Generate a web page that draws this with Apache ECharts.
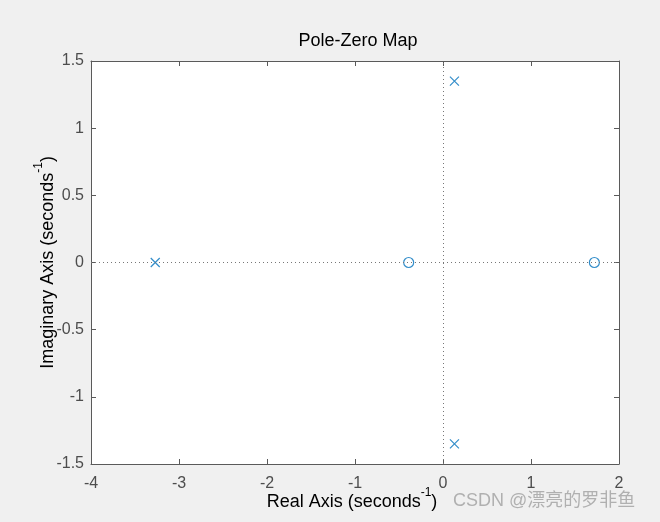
<!DOCTYPE html>
<html><head><meta charset="utf-8">
<script src="https://cdn.jsdelivr.net/npm/echarts@6/dist/echarts.min.js"></script>
<style>html,body{margin:0;padding:0;background:#f0f0f0;}#c{width:660px;height:522px;}</style>
</head><body><div id="c"></div>
<script>
const poleRe = [-3.27, 0.13, 0.13];
const poleIm = [0, 1.35, -1.35];
const zeroRe = [-0.39, 1.72];
const zeroIm = [0, 0];
const xTicks = [-4, -3, -2, -1, 0, 1, 2];
const yTicks = [-1.5, -1, -0.5, 0, 0.5, 1, 1.5];

const FONT = '"Liberation Sans", Arial, sans-serif';
const AX = '#5a5a5a';
const LBL = '#4d4d4d';
const BLUE = '#0072bd';

const chart = echarts.init(document.getElementById('c'), null, {renderer: 'canvas'});
function axisCommon(extra) {
  return Object.assign({
    type: 'value',
    axisLine: {show: true, onZero: false, lineStyle: {color: AX, width: 1}},
    axisTick: {show: true, inside: true, length: 5, lineStyle: {color: AX}},
    splitLine: {show: false},
    axisLabel: {color: LBL, fontFamily: FONT, fontSize: 16}
  }, extra);
}
const richName = {
  a: {fontFamily: FONT, fontSize: 18, color: '#000', lineHeight: 24, verticalAlign: 'bottom'},
  s: {fontFamily: FONT, fontSize: 12, color: '#000', lineHeight: 24, verticalAlign: 'top'}
};
const option = {
  backgroundColor: '#f0f0f0',
  animation: false,
  title: {
    text: 'Pole-Zero Map', left: 353, top: 27, textAlign: 'center',
    textStyle: {fontFamily: FONT, fontSize: 18, fontWeight: 'normal', color: '#000'}
  },
  grid: {left: 91, top: 61, right: 41, bottom: 58, show: true, backgroundColor: '#ffffff', borderWidth: 0,
    outerBoundsMode: 'none', containLabel: false},
  xAxis: [
    axisCommon({position: 'bottom', min: xTicks[0], max: xTicks[xTicks.length - 1], interval: 1,
      axisLabel: {color: LBL, fontFamily: FONT, fontSize: 16, margin: 12},
      name: '{a|Real Axis (seconds}{s|-1}{a|)}', nameLocation: 'middle', nameGap: 23, nameMoveOverlap: false,
      nameTextStyle: {rich: richName, padding: [0, 6, 0, 0]}}),
    axisCommon({position: 'top', min: xTicks[0], max: xTicks[xTicks.length - 1], interval: 1,
      axisLabel: {show: false}})
  ],
  yAxis: [
    axisCommon({position: 'left', min: yTicks[0], max: yTicks[yTicks.length - 1], interval: 0.5,
      axisLabel: {color: LBL, fontFamily: FONT, fontSize: 16, margin: 7},
      name: '{a|Imaginary Axis (seconds}{s|-1}{a|)}', nameLocation: 'middle', nameGap: 34, nameMoveOverlap: false,
      nameTextStyle: {rich: richName}}),
    axisCommon({position: 'right', min: yTicks[0], max: yTicks[yTicks.length - 1], interval: 0.5,
      axisLabel: {show: false}})
  ],
  series: [
    {
      type: 'scatter', name: 'poles', xAxisIndex: 0, yAxisIndex: 0,
      data: poleRe.map((r, i) => [r, poleIm[i]]),
      symbol: 'path://M0,0L10,10M10,0L0,10', symbolSize: 9,
      itemStyle: {color: 'rgba(0,0,0,0)', borderColor: BLUE, borderWidth: 1.2},
      markLine: {
        silent: true, symbol: 'none', label: {show: false},
        lineStyle: {color: '#777', type: [1, 3], width: 1},
        data: [{xAxis: 0}, {yAxis: 0}]
      },
      z: 3
    },
    {
      type: 'scatter', name: 'zeros', xAxisIndex: 0, yAxisIndex: 0,
      data: zeroRe.map((r, i) => [r, zeroIm[i]]),
      symbol: 'circle', symbolSize: 10,
      itemStyle: {color: 'rgba(0,0,0,0)', borderColor: BLUE, borderWidth: 1.2},
      z: 3
    }
  ],
  graphic: [
    {type: 'text', left: 453, top: 492,
     style: {text: 'CSDN @漂亮的罗非鱼', fill: '#b0b0b0', font: '18px "Liberation Sans", "Noto Sans CJK SC", sans-serif'}}
  ]
};
chart.setOption(option);
</script>
</body></html>
